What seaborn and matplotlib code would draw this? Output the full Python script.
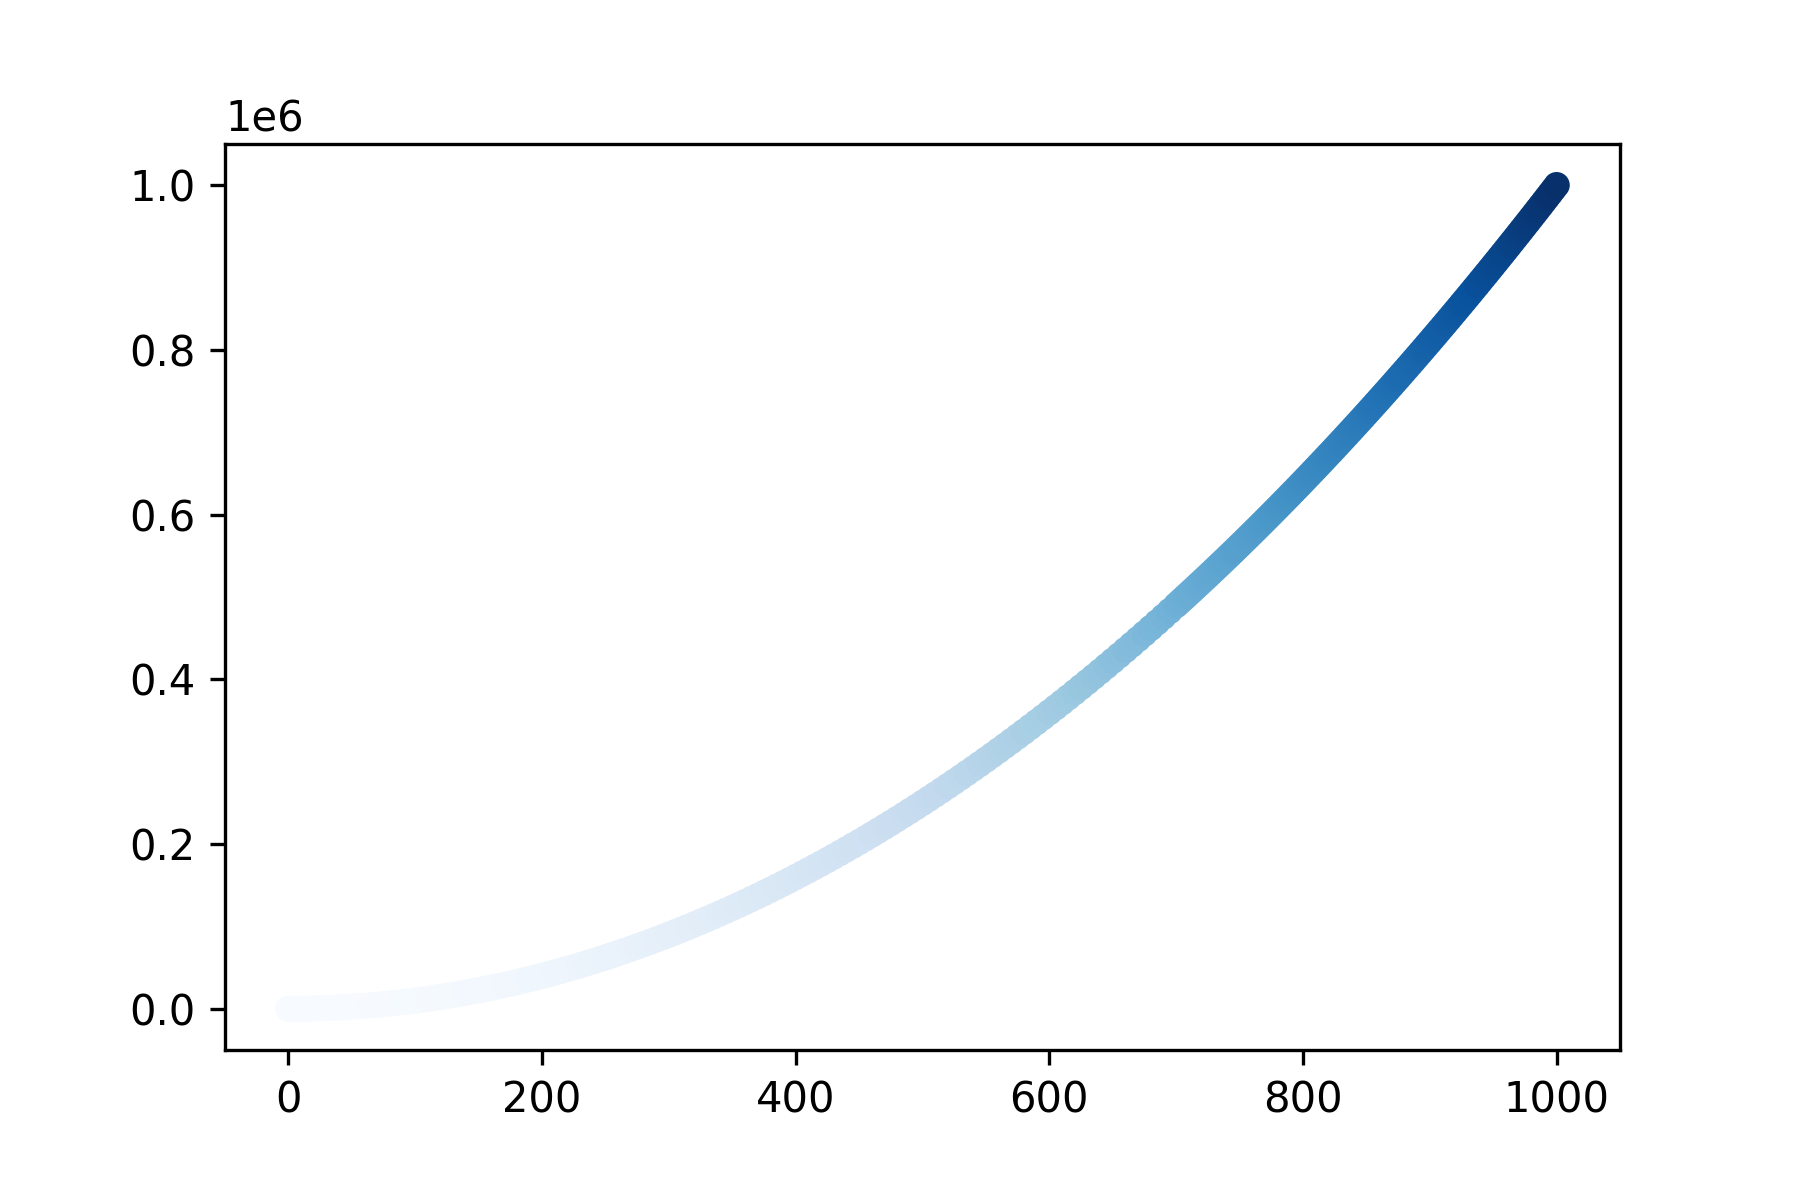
import matplotlib
matplotlib.use("Agg")
from matplotlib import pyplot as plt
import seaborn as sns

# points: every 5 units up to 700, every 2.5 after that
x_values = [
    0, 5, 10, 15, 20, 25, 30, 35, 40, 45, 50, 55, 60, 65, 70, 75, 80, 85, 90, 95,
    100, 105, 110, 115, 120, 125, 130, 135, 140, 145, 150, 155, 160, 165, 170, 175, 180, 185, 190, 195,
    200, 205, 210, 215, 220, 225, 230, 235, 240, 245, 250, 255, 260, 265, 270, 275, 280, 285, 290, 295,
    300, 305, 310, 315, 320, 325, 330, 335, 340, 345, 350, 355, 360, 365, 370, 375, 380, 385, 390, 395,
    400, 405, 410, 415, 420, 425, 430, 435, 440, 445, 450, 455, 460, 465, 470, 475, 480, 485, 490, 495,
    500, 505, 510, 515, 520, 525, 530, 535, 540, 545, 550, 555, 560, 565, 570, 575, 580, 585, 590, 595,
    600, 605, 610, 615, 620, 625, 630, 635, 640, 645, 650, 655, 660, 665, 670, 675, 680, 685, 690, 695,
    700, 702.5, 705, 707.5, 710, 712.5, 715, 717.5, 720, 722.5, 725, 727.5, 730, 732.5, 735, 737.5,
    740, 742.5, 745, 747.5, 750, 752.5, 755, 757.5, 760, 762.5, 765, 767.5, 770, 772.5, 775, 777.5,
    780, 782.5, 785, 787.5, 790, 792.5, 795, 797.5, 800, 802.5, 805, 807.5, 810, 812.5, 815, 817.5,
    820, 822.5, 825, 827.5, 830, 832.5, 835, 837.5, 840, 842.5, 845, 847.5, 850, 852.5, 855, 857.5,
    860, 862.5, 865, 867.5, 870, 872.5, 875, 877.5, 880, 882.5, 885, 887.5, 890, 892.5, 895, 897.5,
    900, 902.5, 905, 907.5, 910, 912.5, 915, 917.5, 920, 922.5, 925, 927.5, 930, 932.5, 935, 937.5,
    940, 942.5, 945, 947.5, 950, 952.5, 955, 957.5, 960, 962.5, 965, 967.5, 970, 972.5, 975, 977.5,
    980, 982.5, 985, 987.5, 990, 992.5, 995, 997.5, 1000,
]
y_values = [
    0, 25, 100, 225, 400, 625, 900, 1225, 1600, 2025,
    2500, 3025, 3600, 4225, 4900, 5625, 6400, 7225, 8100, 9025,
    10000, 11025, 12100, 13225, 14400, 15625, 16900, 18225, 19600, 21025,
    22500, 24025, 25600, 27225, 28900, 30625, 32400, 34225, 36100, 38025,
    40000, 42025, 44100, 46225, 48400, 50625, 52900, 55225, 57600, 60025,
    62500, 65025, 67600, 70225, 72900, 75625, 78400, 81225, 84100, 87025,
    90000, 93025, 96100, 99225, 102400, 105625, 108900, 112225, 115600, 119025,
    122500, 126025, 129600, 133225, 136900, 140625, 144400, 148225, 152100, 156025,
    160000, 164025, 168100, 172225, 176400, 180625, 184900, 189225, 193600, 198025,
    202500, 207025, 211600, 216225, 220900, 225625, 230400, 235225, 240100, 245025,
    250000, 255025, 260100, 265225, 270400, 275625, 280900, 286225, 291600, 297025,
    302500, 308025, 313600, 319225, 324900, 330625, 336400, 342225, 348100, 354025,
    360000, 366025, 372100, 378225, 384400, 390625, 396900, 403225, 409600, 416025,
    422500, 429025, 435600, 442225, 448900, 455625, 462400, 469225, 476100, 483025,
    490000, 493506.25, 497025, 500556.25, 504100, 507656.25, 511225, 514806.25,
    518400, 522006.25, 525625, 529256.25, 532900, 536556.25, 540225, 543906.25,
    547600, 551306.25, 555025, 558756.25, 562500, 566256.25, 570025, 573806.25,
    577600, 581406.25, 585225, 589056.25, 592900, 596756.25, 600625, 604506.25,
    608400, 612306.25, 616225, 620156.25, 624100, 628056.25, 632025, 636006.25,
    640000, 644006.25, 648025, 652056.25, 656100, 660156.25, 664225, 668306.25,
    672400, 676506.25, 680625, 684756.25, 688900, 693056.25, 697225, 701406.25,
    705600, 709806.25, 714025, 718256.25, 722500, 726756.25, 731025, 735306.25,
    739600, 743906.25, 748225, 752556.25, 756900, 761256.25, 765625, 770006.25,
    774400, 778806.25, 783225, 787656.25, 792100, 796556.25, 801025, 805506.25,
    810000, 814506.25, 819025, 823556.25, 828100, 832656.25, 837225, 841806.25,
    846400, 851006.25, 855625, 860256.25, 864900, 869556.25, 874225, 878906.25,
    883600, 888306.25, 893025, 897756.25, 902500, 907256.25, 912025, 916806.25,
    921600, 926406.25, 931225, 936056.25, 940900, 945756.25, 950625, 955506.25,
    960400, 965306.25, 970225, 975156.25, 980100, 985056.25, 990025, 995006.25,
    1000000,
]

fig, ax = plt.subplots(figsize=(6, 4), dpi=300)
fig.subplots_adjust(bottom=0.125)
sns.scatterplot(x=x_values, y=y_values, hue=y_values, palette='Blues',
                s=40, linewidth=0, legend=False, ax=ax)

fig.savefig('out.png', dpi=300, facecolor='w')
